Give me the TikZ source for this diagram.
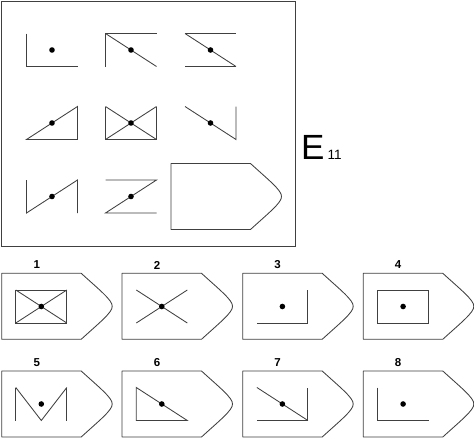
\documentclass[tikz,border=0pt]{standalone}
\usepackage{fontspec}
\setmainfont{Liberation Sans}
\begin{document}
\begin{tikzpicture}[x=1pt,y=-1pt,
  ln/.style={draw=black!75, line width=0.85pt},
  dotc/.style={fill=black, draw=none},
  lbl/.style={font=\bfseries\fontsize{11.5}{11.5}\selectfont, inner sep=0pt},
  tag/.pic={\draw[ln, line join=round] (0,0) -- (79.5,0) .. controls (97,16) and (111,27) .. (110.5,33) .. controls (111,39) and (97,50) .. (79.5,66) -- (0,66) -- cycle;},
  dt/.pic={\fill[dotc] (0,0) circle (2.8);},
  fa/.pic={\draw[ln] (-25.5,-16.5) -- (-25.5,16.5) -- (25.5,16.5); \pic{dt};},
  fb/.pic={\draw[ln] (25.5,-16.5) -- (-25.5,-16.5) -- (-25.5,16.5); \draw[ln] (-25.5,-16.5) -- (25.5,16.5); \pic{dt};},
  fc/.pic={\draw[ln] (-25.5,-16.5) -- (25.5,-16.5); \draw[ln] (-25.5,16.5) -- (25.5,16.5); \draw[ln] (-25.5,-16.5) -- (25.5,16.5); \pic{dt};},
  fd/.pic={\draw[ln] (-25.5,16.5) -- (25.5,-16.5) -- (25.5,16.5) -- cycle; \pic{dt};},
  fe/.pic={\draw[ln] (-25.5,-16.5) -- (-25.5,16.5) -- (25.5,16.5) -- (25.5,-16.5); \draw[ln] (-25.5,-16.5) -- (25.5,16.5); \draw[ln] (-25.5,16.5) -- (25.5,-16.5); \pic{dt};},
  ff/.pic={\draw[ln] (-25.5,-16.5) -- (25.5,16.5) -- (25.5,-16.5); \pic{dt};},
  fg/.pic={\draw[ln] (-25.5,-16.5) -- (-25.5,16.5) -- (25.5,-16.5) -- (25.5,16.5); \pic{dt};},
  fh/.pic={\draw[ln] (-25.5,-16.5) -- (25.5,-16.5) -- (-25.5,16.5) -- (25.5,16.5); \pic{dt};},
  oa/.pic={\draw[ln] (-25.5,-16.5) rectangle (25.5,16.5); \draw[ln] (-25.5,-16.5) -- (25.5,16.5); \draw[ln] (-25.5,16.5) -- (25.5,-16.5); \pic{dt};},
  ob/.pic={\draw[ln] (-25.5,-16.5) -- (25.5,16.5); \draw[ln] (-25.5,16.5) -- (25.5,-16.5); \pic{dt};},
  oc/.pic={\draw[ln] (-25.5,16.5) -- (25.5,16.5) -- (25.5,-16.5); \pic{dt};},
  od/.pic={\draw[ln] (-25.5,-16.5) rectangle (25.5,16.5); \pic{dt};},
  oe/.pic={\draw[ln] (-25.5,-16.5) -- (-25.5,16.5); \draw[ln] (-25.5,-16.5) -- (0,16.5) -- (25.5,-16.5); \draw[ln] (25.5,-16.5) -- (25.5,16.5); \pic{dt};},
  of/.pic={\draw[ln] (-25.5,-16.5) -- (-25.5,16.5) -- (25.5,16.5) -- cycle; \pic{dt};},
  og/.pic={\draw[ln] (-25.5,-16.5) -- (25.5,16.5); \draw[ln] (-25.5,16.5) -- (25.5,16.5) -- (25.5,-16.5); \pic{dt};},
  oh/.pic={\draw[ln] (-25.5,-16.5) -- (-25.5,16.5) -- (25.5,16.5); \pic{dt};}
]
\useasboundingbox (0,0) rectangle (474,439);
\fill[white] (0,0) rectangle (474,439);
% main matrix frame
\draw[ln] (1,1) rectangle (295,246);
\pic at (52,50) {fa};
\pic at (131,50) {fb};
\pic at (210.5,50) {fc};
\pic at (52,123) {fd};
\pic at (131,123) {fe};
\pic at (210.5,123) {ff};
\pic at (52,196.5) {fg};
\pic at (131,196.5) {fh};
\pic at (171,163.5) {tag};
% title
\node[anchor=base west, inner sep=0pt] (title) at (301,159.3) {\fontsize{35}{35}\selectfont E\hspace{3pt}\fontsize{13.5}{13.5}\selectfont 11};
% answer options row 1
\pic at (1.7,273.3) {tag};
\pic at (122,273.3) {tag};
\pic at (242.7,273.3) {tag};
\pic at (363.3,273.3) {tag};
\pic at (41.3,306.5) {oa};
\pic at (161.8,306.5) {ob};
\pic at (282.4,306.5) {oc};
\pic at (403.1,306.5) {od};
\node[lbl] (l1) at (36.7,265) {1};
\node[lbl] (l2) at (157,265) {2};
\node[lbl] (l3) at (277.5,265) {3};
\node[lbl] (l4) at (398,265) {4};
% answer options row 2
\pic at (1.7,371) {tag};
\pic at (122,371) {tag};
\pic at (242.7,371) {tag};
\pic at (363.3,371) {tag};
\pic at (41.3,404) {oe};
\pic at (161.8,404) {of};
\pic at (282.4,404) {og};
\pic at (403.1,404) {oh};
\node[lbl] (l5) at (36.7,363) {5};
\node[lbl] (l6) at (157,363) {6};
\node[lbl] (l7) at (277.5,363) {7};
\node[lbl] (l8) at (398,363) {8};
\end{tikzpicture}
\end{document}
